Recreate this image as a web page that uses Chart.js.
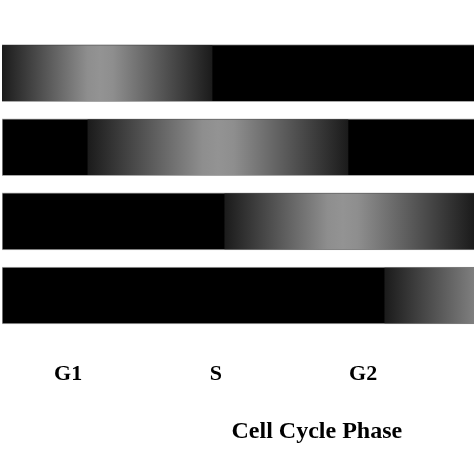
<!DOCTYPE html>
<html lang="en">
<head>
  <meta charset="UTF-8">
  <title>Cell Cycle Phase</title>
  <style>
    body { margin: 0; background: #fff; }
  </style>
</head>
<body>
  <canvas id="chart_Ciclo" width="474" height="474"></canvas>

<script src="https://cdn.jsdelivr.net/npm/chart.js"></script>
<script>
  // linhas do gráfico (uma barra por linha)
  const linhas = ['1', '2', '3', '4'];
  // onde o sinal cinza começa, atinge o máximo e termina (eixo 0-100 = ciclo)
  const inicioSinal = [0, 18.2, 47.2, 81.1];
  const picoSinal = [20.8, 45.8, 72.2, 106];
  const fimSinal = [44.5, 73.3, 100, 131];
  const fundoBarra = [[0, 100], [0, 100], [0, 100], [0, 100]];
  // rótulos das fases
  const fases = ['G1', 'S', 'G2'];
  const posicaoFases = [14, 45.3, 76.5];
  const tituloEixo = 'Cell Cycle Phase';
  const posicaoTitulo = 66.7;

  const fonteSerif = "'Liberation Serif', 'Times New Roman', serif";

  function corSinal(context) {
    const chart = context.chart;
    const area = chart.chartArea;
    if (!area) return '#1a1a1a';
    const i = context.dataIndex;
    const x = chart.scales.x;
    const x0 = x.getPixelForValue(inicioSinal[i]);
    const x1 = x.getPixelForValue(fimSinal[i]);
    const meio = (picoSinal[i] - inicioSinal[i]) / (fimSinal[i] - inicioSinal[i]);
    const grad = chart.ctx.createLinearGradient(x0, 0, x1, 0);
    grad.addColorStop(0, '#1b1b1b');
    grad.addColorStop(Math.max(0, meio - 0.06), '#8e8e8e');
    grad.addColorStop(meio, '#939393');
    grad.addColorStop(Math.min(1, meio + 0.06), '#8e8e8e');
    grad.addColorStop(1, '#1b1b1b');
    return grad;
  }

  const tituloPlugin = {
    id: 'tituloPlugin',
    afterDraw(chart) {
      const ctx = chart.ctx;
      const x = chart.scales.x;
      ctx.save();
      ctx.font = 'bold 24px ' + fonteSerif;
      ctx.fillStyle = '#000';
      ctx.textAlign = 'center';
      ctx.textBaseline = 'middle';
      ctx.fillText(tituloEixo, x.getPixelForValue(posicaoTitulo), x.bottom + 15);
      ctx.restore();
    }
  };

  new Chart(document.getElementById('chart_Ciclo'), {
    type: 'bar',
    data: {
      labels: linhas,
      datasets: [
        {
          label: 'sinal',
          data: inicioSinal.map((v, i) => [v, fimSinal[i]]),
          backgroundColor: corSinal,
          borderWidth: 0,
          barThickness: 55,
          grouped: false,
          clip: 0,
          order: 0
        },
        {
          label: 'fundo',
          data: fundoBarra,
          backgroundColor: '#000',
          borderColor: '#a8a8a8',
          borderWidth: { top: 1, bottom: 1, left: 1, right: 0 },
          borderSkipped: false,
          barThickness: 57,
          grouped: false,
          order: 1
        }
      ]
    },
    options: {
      responsive: false,
      animation: false,
      indexAxis: 'y',
      layout: { padding: { top: 36, left: 2, right: 0, bottom: 57 } },
      plugins: {
        legend: { display: false },
        tooltip: { enabled: false }
      },
      scales: {
        x: {
          min: 0,
          max: 100,
          grid: { display: false, drawTicks: false },
          border: { display: false },
          afterBuildTicks: function (scale) {
            scale.ticks = posicaoFases.map(v => ({ value: v }));
          },
          ticks: {
            autoSkip: false,
            maxRotation: 0,
            padding: 29,
            color: '#000',
            font: { family: fonteSerif, size: 22, weight: 'bold' },
            callback: function (valor, indice) {
              return fases[indice];
            }
          }
        },
        y: {
          display: false
        }
      }
    },
    plugins: [tituloPlugin]
  });
</script>
</body>
</html>
